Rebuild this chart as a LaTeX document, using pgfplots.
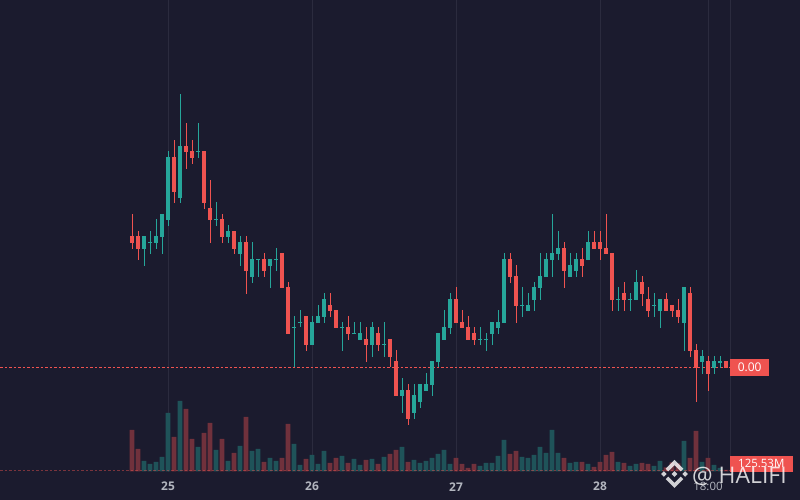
\documentclass[border=0pt]{standalone}
\usepackage{fontspec}
\setmainfont{Open Sans}
\usepackage{pgfplots}
\usepackage{pgfplotstable}
\pgfplotsset{compat=1.18}
\definecolor{bg}{RGB}{27,27,46}
\definecolor{upc}{RGB}{38,166,154}
\definecolor{dnc}{RGB}{239,83,80}
\definecolor{volup}{RGB}{31,83,89}
\definecolor{voldn}{RGB}{112,49,60}
\definecolor{gridc}{RGB}{43,43,62}
\definecolor{tickc}{RGB}{178,181,190}

% hourly candles: x = hours from day 25 00:00, o h l c
\pgfplotstableread{
x o h l c
-4 251.3 264 234.3 264
-3 257.3 269 246 258
-2 257.3 281 251.3 264
-1 263.3 286 246 286
0 280 349 274.3 343
2 302.3 406 297.3 354
5 348.7 377 342.3 349
8 280.5 298 274.3 280.7
10 263.3 275 257.3 269
12 246 264 234.3 258
14 223.3 258 217.3 241
15 240.5 241 223.3 240.7
17 234.3 241 212.3 241
18 240.5 252 229.3 240.7
21 172.5 184 132.7 172.7
22 177.5 190 172.7 177.7
24 155 184 155 178
25 177.3 195 177.3 184
26 183.3 207 177.3 201
29 172.5 178 149.3 172.7
31 166.5 178 166.3 166.7
32 160.3 178 160.3 167
34 155 178 143.3 173
36 155.5 178 143.3 155.7
39 104.3 122 87.3 110
41 87.3 116 81.3 105
42 98.3 116 92.3 116
43 109.3 127 109.3 116
44 115 139 104.3 139
45 138.3 167 132.7 167
46 160.3 190 160.3 173
47 172.3 207 166.3 201
52 160.7 173 155 161
53 160.7 167 149.3 161
54 166.3 178 155 178
55 172.3 190 166.3 178
56 177.3 247 177.3 241
59 194.5 213 183.3 194.7
60 189.3 207 189.3 195
61 200.3 218 189.3 213
62 212.3 247 200.3 224
63 223.3 247 223.3 241
64 240 286 223.3 247
65 246 269 240 252
67 223.3 247 223.3 235
68 229.3 247 223.3 241
70 240 269 240 258
75 200.5 213 189.3 200.7
77 200.5 207 189.3 200.7
78 200.3 230 200.3 218
81 194.5 207 183.3 194.7
82 189.3 201 172.3 201
86 177.3 213 149.3 213
89 138.3 150 126.3 144
91 132.3 144 126.3 139
92 138.3 144 132.3 138.5
}\upT

\pgfplotstableread{
x o h l c
-6 264 286 251.3 257.3
-5 264 269 240 251.3
1 343 360 297.3 308
3 354 377 331.3 348.3
4 349 360 336.3 342.3
6 349 349 291.3 297.3
7 292 320 257.3 280.3
9 281 286 257.3 263.3
11 269 269 246 251.3
13 258 264 206.3 229.3
16 241 247 223.3 229.3
19 247 247 212.3 212.3
20 213 218 166 166
23 184 184 149.3 155
27 195 207 183.3 189.3
28 190 190 172.3 172.3
30 173 184 160.3 166.3
33 161 173 138.3 155
35 167 173 149.3 155
37 161 161 132.7 143.3
38 139 150 104.3 104.3
40 110 116 75.3 81.3
48 201 213 177.3 177.3
49 178 190 172.3 172.3
50 173 184 160.3 160.3
51 167 173 155 160.3
57 241 247 217.3 223.3
58 224 235 177.3 194.3
66 252 258 212.3 229.3
69 241 252 223.3 234.3
71 258 269 251.3 251.3
72 258 269 240 251.3
73 252 286 246 246
74 247 247 189.3 200.3
76 207 218 189.3 200.3
79 218 224 194.3 206.3
80 201 213 183.3 189.3
83 201 207 189.3 189.3
84 195 195 183.3 189.3
85 190 201 177.3 183.3
87 207 213 143.3 149.3
88 150 156 98.3 132.3
90 139 144 109.3 126.3
93 139 139 132.3 132.3
}\dnT

\pgfplotstableread{
x v
-4 10.3
-3 7.3
-2 9.3
-1 14.3
0 58.3
2 70.3
5 24.3
8 21.3
10 10.3
12 25.3
14 20.3
15 22.3
17 13.3
18 10.3
21 27.3
22 6.3
24 16.3
25 7.3
26 20.3
29 15.3
31 12.3
32 6.3
34 12.3
36 14.3
39 24.3
41 11.3
42 8.3
43 10.3
44 13.3
45 17.3
46 21.3
47 7.3
52 5.3
53 8.3
54 8.3
55 15.3
56 31.3
59 14.3
60 13.3
61 16.3
62 24.3
63 18.3
64 41.3
65 18.3
67 8.3
68 9.3
70 7.3
75 9.3
77 5.3
78 7.3
81 5.3
82 10.3
86 30.3
89 9.3
91 6.3
92 3.3
}\upV

\pgfplotstableread{
x v
-6 41.3
-5 22.3
1 34.3
3 62.3
4 32.3
6 38.3
7 48.3
9 32.3
11 18.3
13 54.3
16 9.3
19 13.3
20 47.3
23 12.3
27 8.3
28 13.3
30 8.3
33 11.3
35 7.3
37 17.3
38 21.3
40 9.3
48 13.3
49 7.3
50 3.3
51 7.3
57 17.3
58 20.3
66 13.3
69 9.3
71 4.3
72 9.3
73 16.3
74 19.3
76 8.3
79 8.3
80 7.3
83 4
84 9
85 8
87 13.3
88 40.3
90 13.3
93 1.3
}\dnV

\begin{document}
\begin{tikzpicture}
\fill[bg] (0,0) rectangle (800bp,500bp);
\begin{scope}[shift={(0,500bp)},x=1bp,y=-1bp]
\foreach \g in {168,312,456,600,708,730} \draw[gridc,line width=1bp] (\g,0) -- (\g,472);
\end{scope}

% volume pane
\begin{axis}[at={(0,0)},anchor=south west,scale only axis,width=800bp,height=500bp,
  xmin=-28,xmax=105.3333,ymin=-28.7,ymax=471.3,hide axis]
\addplot[ybar,bar width=4.8bp,bar shift=0pt,fill=volup,draw=none] table[x=x,y=v]{\upV};
\addplot[ybar,bar width=4.8bp,bar shift=0pt,fill=voldn,draw=none] table[x=x,y=v]{\dnV};
\addplot[sharp plot,mark=none,draw=dnc,draw opacity=0.45,line width=1bp,dash pattern=on 2.5bp off 2bp] coordinates {(-28,0.6) (93.667,0.6)};
\end{axis}

% price pane
\begin{axis}[at={(0,0)},anchor=south west,scale only axis,width=800bp,height=500bp,
  xmin=-28,xmax=105.3333,ymin=0,ymax=500,hide axis]
\addplot[sharp plot,mark=none,draw=dnc,line width=1bp,dash pattern=on 2.5bp off 2bp] coordinates {(-28,132.7) (93.667,132.7)};
\addplot[draw=none,mark=none,error bars/.cd,y dir=both,y explicit,error mark=none,
  error bar style={draw=upc,line width=1bp}]
  table[x=x,y expr={(\thisrow{h}+\thisrow{l})/2},y error expr={(\thisrow{h}-\thisrow{l})/2}]{\upT};
\addplot[draw=none,mark=none,error bars/.cd,y dir=both,y explicit,error mark=none,
  error bar style={draw=dnc,line width=1bp}]
  table[x=x,y expr={(\thisrow{h}+\thisrow{l})/2},y error expr={(\thisrow{h}-\thisrow{l})/2}]{\dnT};
\addplot[draw=none,mark=none,error bars/.cd,y dir=both,y explicit,error mark=none,
  error bar style={draw=upc,line width=4.8bp}]
  table[x=x,y expr={(\thisrow{o}+\thisrow{c})/2},y error expr={max(abs(\thisrow{o}-\thisrow{c})/2,0.6)}]{\upT};
\addplot[draw=none,mark=none,error bars/.cd,y dir=both,y explicit,error mark=none,
  error bar style={draw=dnc,line width=4.8bp}]
  table[x=x,y expr={(\thisrow{o}+\thisrow{c})/2},y error expr={max(abs(\thisrow{o}-\thisrow{c})/2,0.6)}]{\dnT};
\end{axis}

\begin{scope}[shift={(0,500bp)},x=1bp,y=-1bp]
% time labels
\foreach \px/\lab in {168/25,312/26,456/27,600/28}
  \node[inner sep=0pt,text=tickc,font=\fontsize{12}{14}\selectfont\bfseries] at (\px,486.7) {\lab};
\node[inner sep=0pt,text=tickc,font=\fontsize{11.5}{14}\selectfont] at (708,486.7) {18:00};
% last price / volume labels
\fill[dnc] (730,359) rectangle (769.3,375.7);
\node[inner sep=0pt,text=white,font=\fontsize{12}{14}\selectfont] at (749.7,367.3) {0.00};
\fill[dnc] (730,455.7) rectangle (792.7,471.7);
\node[inner sep=0pt,text=white,font=\fontsize{11.5}{14}\selectfont] at (761.3,463.7) {125.53M};
% watermark
\node[inner sep=0pt,anchor=base west,text=white,text opacity=0.8,font=\fontsize{23}{27}\selectfont] at (692,483.3) {@ HALIFI};
\begin{scope}[shift={(674.5,474)},x=14bp,y=14bp]
\fill[white,fill opacity=0.8] (0,1) -- (0.63,0.37) -- (0.45,0.19) -- (0,0.64) -- (-0.45,0.19) -- (-0.63,0.37) -- cycle;
\fill[white,fill opacity=0.8] (0,-1) -- (0.63,-0.37) -- (0.45,-0.19) -- (0,-0.64) -- (-0.45,-0.19) -- (-0.63,-0.37) -- cycle;
\fill[white,fill opacity=0.8] (0,0.2) -- (0.2,0) -- (0,-0.2) -- (-0.2,0) -- cycle;
\fill[white,fill opacity=0.8] (-0.76,0.2) -- (-0.56,0) -- (-0.76,-0.2) -- (-0.96,0) -- cycle;
\fill[white,fill opacity=0.8] (0.76,0.2) -- (0.96,0) -- (0.76,-0.2) -- (0.56,0) -- cycle;
\end{scope}
\end{scope}
\pgfresetboundingbox
\path[use as bounding box] (0,0) rectangle (800bp,500bp);
\end{tikzpicture}
\end{document}
